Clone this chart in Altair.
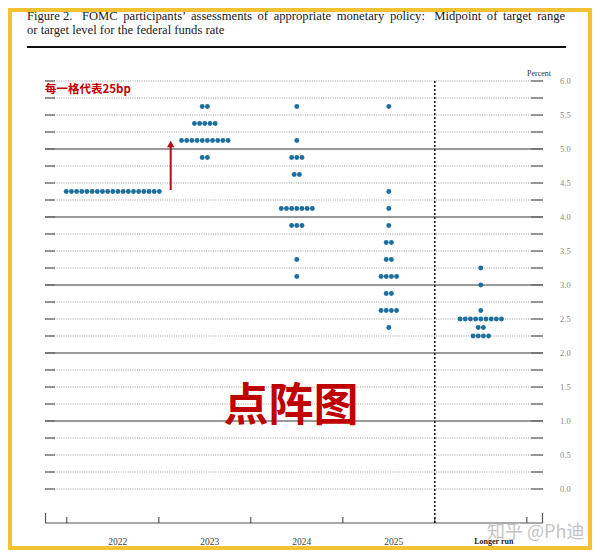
import altair as alt
import pandas as pd

# ---------------- data ----------------
categories = ["2022", "2023", "2024", "2025", "Longer run"]

rates_2022 = [4.375]
counts_2022 = [19]

rates_2023 = [5.625, 5.375, 5.125, 4.875]
counts_2023 = [2, 5, 10, 2]

rates_2024 = [5.625, 5.125, 4.875, 4.625, 4.125, 3.875, 3.375, 3.125]
counts_2024 = [1, 1, 3, 2, 7, 3, 1, 1]

rates_2025 = [5.625, 4.375, 4.125, 3.875, 3.625, 3.375, 3.125, 2.875, 2.625, 2.375]
counts_2025 = [1, 1, 1, 1, 2, 2, 4, 2, 4, 1]

rates_lr = [3.25, 3.0, 2.625, 2.5, 2.375, 2.25]
counts_lr = [1, 1, 1, 9, 2, 4]

grid_levels = [0.0, 0.25, 0.5, 0.75, 1.0, 1.25, 1.5, 1.75, 2.0, 2.25, 2.5, 2.75,
               3.0, 3.25, 3.5, 3.75, 4.0, 4.25, 4.5, 4.75, 5.0, 5.25, 5.5, 5.75, 6.0]
solid_levels = [1.0, 2.0, 3.0, 4.0, 5.0]
y_tick_labels = [0.0, 0.5, 1.0, 1.5, 2.0, 2.5, 3.0, 3.5, 4.0, 4.5, 5.0, 5.5, 6.0]
x_tick_positions = [-0.5, 0.5, 1.5, 2.5, 3.5, 4.5]
divider_position = [3.5]

# first title line is justified: word gaps widened with thin / en spaces (SVG collapses plain spaces)
SP = " \u2009"
SP2 = " \u2002"
title_line_1 = ("Figure 2." + SP2 + SP.join(["FOMC", "participants\u2019", "assessments", "of",
                                              "appropriate", "monetary", "policy:"])
                + SP2 + SP.join(["Midpoint", "of", "target", "range"]))
title_line_2 = "or target level for the federal funds rate"

# ---------------- tables ----------------
series = [
    (rates_2022, counts_2022),
    (rates_2023, counts_2023),
    (rates_2024, counts_2024),
    (rates_2025, counts_2025),
    (rates_lr, counts_lr),
]
rows = []
for idx, (rates, counts) in enumerate(series):
    for r, c in zip(rates, counts):
        for _ in range(c):
            rows.append({"cat": categories[idx], "idx": idx, "rate": r})
dots_df = pd.DataFrame(rows)

grid_df = pd.DataFrame({"level": grid_levels})
dotted_df = pd.DataFrame({"level": [g for g in grid_levels if g not in solid_levels]})
solid_df = pd.DataFrame({"level": solid_levels})
ylab_df = pd.DataFrame({"v": y_tick_labels})
xtick_df = pd.DataFrame({"pos": x_tick_positions})
div_df = pd.DataFrame({"pos": divider_position})
xlab_df = pd.DataFrame({"cat": categories[:4], "idx": list(range(4))})
lrlab_df = pd.DataFrame({"cat": categories[4:], "idx": [4]})
one = pd.DataFrame({"a": [0]})

W, H = 498, 442
xs = alt.Scale(domain=[-0.737, 4.676], nice=False, zero=False)
ys = alt.Scale(domain=[-0.5, 6.0], nice=False, zero=False)
SERIF = "Liberation Serif"
CJK = "Noto Sans CJK SC"
RED = "#c00000"
STEP = 0.0562

layers = []

# frame
layers.append(alt.Chart(one).mark_rect(fillOpacity=0, stroke="#f3c232", strokeWidth=4).encode(
    x=alt.value(-35), x2=alt.value(545), y=alt.value(-71), y2=alt.value(467)))

# grid lines
layers.append(alt.Chart(dotted_df).mark_rule(color="#9a9a9a", strokeWidth=1, strokeDash=[1, 1.3]).encode(
    y=alt.Y("level:Q", scale=ys, axis=None), x=alt.value(0), x2=alt.value(W)))
layers.append(alt.Chart(solid_df).mark_rule(color="#777777", strokeWidth=1.3).encode(
    y=alt.Y("level:Q", scale=ys, axis=None), x=alt.value(0), x2=alt.value(W)))
layers.append(alt.Chart(grid_df).mark_rule(color="#666666", strokeWidth=1.3).encode(
    y=alt.Y("level:Q", scale=ys, axis=None), x=alt.value(0), x2=alt.value(10)))
layers.append(alt.Chart(grid_df).mark_rule(color="#666666", strokeWidth=1.3).encode(
    y=alt.Y("level:Q", scale=ys, axis=None), x=alt.value(W - 12), x2=alt.value(W)))

# bottom axis
layers.append(alt.Chart(one).mark_rule(color="#555555", strokeWidth=1.2).encode(
    x=alt.value(0), x2=alt.value(W), y=alt.value(H)))
layers.append(alt.Chart(xtick_df).mark_rule(color="#555555", strokeWidth=1.2).encode(
    x=alt.X("pos:Q", scale=xs, axis=None), y=alt.value(H), y2=alt.value(H - 6)))
layers.append(alt.Chart(one).mark_rule(color="#555555", strokeWidth=1.2).encode(
    x=alt.value(0.5), y=alt.value(H), y2=alt.value(H - 10)))
layers.append(alt.Chart(one).mark_rule(color="#555555", strokeWidth=1.2).encode(
    x=alt.value(W - 0.5), y=alt.value(H), y2=alt.value(H - 10)))

# divider
layers.append(alt.Chart(div_df).mark_rule(color="#111111", strokeWidth=1.5, strokeDash=[2, 2]).encode(
    x=alt.X("pos:Q", scale=xs, axis=None), y=alt.value(0), y2=alt.value(H)))

# dots
layers.append(
    alt.Chart(dots_df)
    .transform_window(rn="row_number()", groupby=["cat", "rate"])
    .transform_joinaggregate(n="count()", groupby=["cat", "rate"])
    .transform_calculate(xpos=f"datum.idx + (datum.rn - (datum.n + 1) / 2) * {STEP}")
    .mark_circle(size=24, color="#1d6fa0", opacity=1)
    .encode(x=alt.X("xpos:Q", scale=xs, axis=None), y=alt.Y("rate:Q", scale=ys, axis=None))
)

# y labels
layers.append(alt.Chart(ylab_df).mark_text(font=SERIF, fontSize=8.5, color="#888888", align="left", baseline="middle").encode(
    y=alt.Y("v:Q", scale=ys, axis=None), x=alt.value(515), text=alt.Text("v:Q", format=".1f")))
layers.append(alt.Chart(one).mark_text(font=SERIF, fontSize=8, color="#333333", align="center", baseline="middle").encode(
    x=alt.value(494), y=alt.value(-7), text=alt.value("Percent")))

# x labels
layers.append(alt.Chart(xlab_df).mark_text(font=SERIF, fontSize=9.5, color="#444444", align="center", baseline="middle", dx=5).encode(
    x=alt.X("idx:Q", scale=xs, axis=None), y=alt.value(461), text="cat:N"))
layers.append(alt.Chart(lrlab_df).mark_text(font=SERIF, fontSize=8, fontWeight="bold", color="#222222", align="center", baseline="middle", dx=13).encode(
    x=alt.X("idx:Q", scale=xs, axis=None), y=alt.value(461), text="cat:N"))

# title
layers.append(alt.Chart(one).mark_text(font=SERIF, fontSize=12.6, color="#1a1a1a", align="left", baseline="middle").encode(
    x=alt.value(-18), y=alt.value(-65), text=alt.value(title_line_1)))
layers.append(alt.Chart(one).mark_text(font=SERIF, fontSize=12.6, color="#1a1a1a", align="left", baseline="middle").encode(
    x=alt.value(-18), y=alt.value(-51), text=alt.value(title_line_2)))
layers.append(alt.Chart(one).mark_rule(color="#111111", strokeWidth=2).encode(
    x=alt.value(-18), x2=alt.value(521), y=alt.value(-34)))

# annotations
layers.append(alt.Chart(one).mark_text(font=CJK, fontSize=11.5, fontWeight="bold", color=RED, align="left", baseline="middle").encode(
    x=alt.value(0), y=alt.value(9), text=alt.value("每一格代表25bp")))
layers.append(alt.Chart(one).mark_rule(color="#b0101a", strokeWidth=2).encode(
    x=alt.value(125.7), y=alt.value(109), y2=alt.value(66)))
layers.append(alt.Chart(one).mark_point(shape="triangle-up", filled=True, size=55, color="#b0101a", opacity=1).encode(
    x=alt.value(125.7), y=alt.value(63)))
layers.append(alt.Chart(one).mark_text(font=CJK, fontSize=45, fontWeight="bold", color=RED, align="center", baseline="middle").encode(
    x=alt.value(246), y=alt.value(326), text=alt.value("点阵图")))
layers.append(alt.Chart(one).mark_text(font=CJK, fontSize=18, color="#bdbdbd", opacity=0.9, align="left", baseline="middle").encode(
    x=alt.value(442), y=alt.value(452), text=alt.value("知乎 @Ph迪")))

chart = alt.layer(*layers).properties(
    width=W, height=H,
    autosize=alt.AutoSizeParams(type="none"),
    padding={"left": 37, "top": 73, "right": 49, "bottom": 27},
    background="white",
).configure_view(stroke=None)

chart.save("out.html", embed_options={"renderer": "svg", "actions": False})
